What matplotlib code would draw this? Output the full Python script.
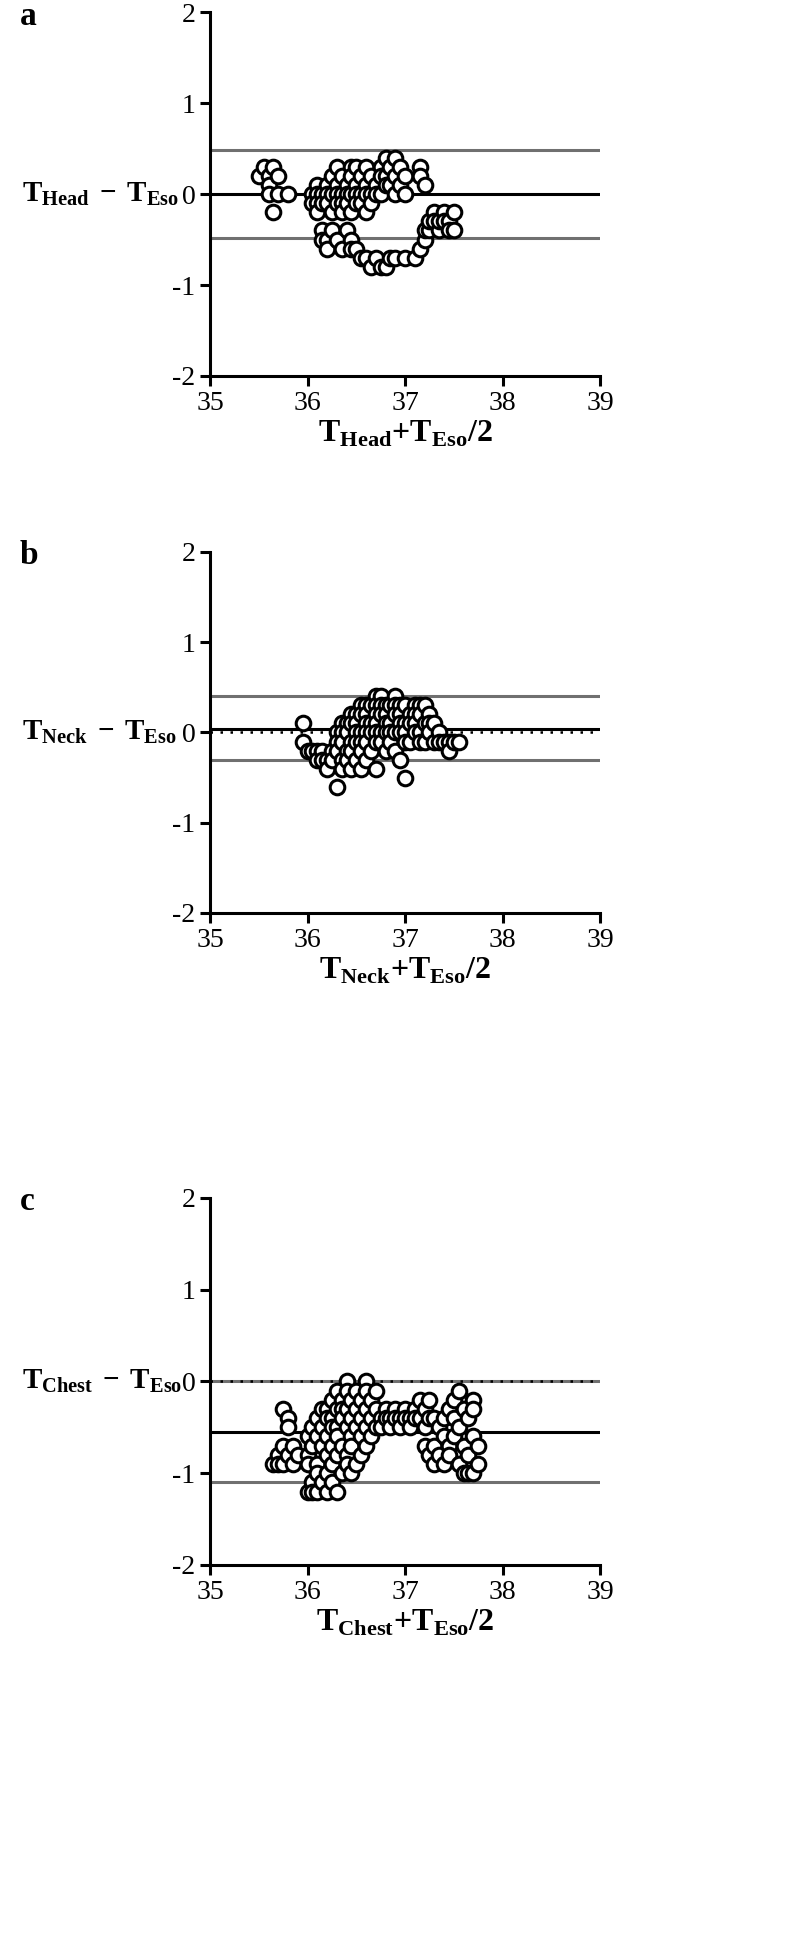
import numpy as np
import matplotlib
matplotlib.use("Agg")
import matplotlib.pyplot as plt

plt.rcParams["font.family"] = "Liberation Serif"
plt.rcParams["mathtext.fontset"] = "custom"
plt.rcParams["mathtext.bf"] = "Liberation Serif:bold"
plt.rcParams["mathtext.rm"] = "Liberation Serif"
plt.rcParams["axes.unicode_minus"] = False

# ---- data: column x -> list of differences
cols_a = {
    35.5: [0.2], 35.55: [0.3], 35.6: [0.2, 0.1, 0.0], 35.65: [0.3, -0.2], 35.7: [0.2, 0.0],
    35.8: [0.0],
    36.05: [0.0, -0.1], 36.1: [0.1, 0.0, -0.1, -0.2], 36.15: [0.0, -0.1, -0.4, -0.5],
    36.2: [0.1, 0.0, -0.1, -0.5, -0.6], 36.25: [0.2, 0.0, -0.2, -0.4],
    36.3: [0.3, 0.1, 0.0, -0.1, -0.5], 36.35: [0.2, 0.0, -0.1, -0.2, -0.6],
    36.4: [0.1, 0.0, -0.1, -0.4], 36.45: [0.3, 0.2, 0.0, -0.2, -0.5, -0.6],
    36.5: [0.3, 0.1, 0.0, -0.1, -0.6], 36.55: [0.2, 0.0, -0.1, -0.7],
    36.6: [0.3, 0.1, 0.0, -0.2, -0.7], 36.65: [0.2, 0.0, -0.1, -0.8],
    36.7: [0.1, 0.0, -0.7], 36.75: [0.3, 0.2, 0.0, -0.8], 36.8: [0.4, 0.2, 0.1, -0.8],
    36.85: [0.3, 0.1, -0.7], 36.9: [0.4, 0.2, 0.0, -0.7], 36.95: [0.3, 0.1],
    37.0: [0.2, 0.0, -0.7], 37.1: [-0.7], 37.15: [0.3, 0.2, -0.6],
    37.2: [0.1, -0.5, -0.4], 37.25: [-0.4, -0.3], 37.3: [-0.2, -0.3],
    37.35: [-0.4, -0.3], 37.4: [-0.2, -0.3], 37.45: [-0.3, -0.4], 37.5: [-0.2, -0.4],
}
cols_b = {
    35.95: [0.1, -0.1], 36.0: [-0.2], 36.05: [-0.2], 36.1: [-0.2, -0.3],
    36.15: [-0.2, -0.3], 36.2: [-0.3, -0.4], 36.25: [-0.2, -0.3],
    36.3: [0.0, -0.1, -0.2, -0.6], 36.35: [0.1, 0.0, -0.1, -0.3, -0.4],
    36.4: [0.1, 0.0, -0.2, -0.3], 36.45: [0.2, 0.1, -0.1, -0.2, -0.4],
    36.5: [0.2, 0.1, 0.0, -0.1, -0.3], 36.55: [0.3, 0.2, 0.0, -0.1, -0.2, -0.4],
    36.6: [0.3, 0.2, 0.1, 0.0, -0.1, -0.3], 36.65: [0.3, 0.1, 0.0, -0.2],
    36.7: [0.4, 0.3, 0.2, 0.1, 0.0, -0.1, -0.4], 36.75: [0.4, 0.3, 0.2, 0.0, -0.1],
    36.8: [0.3, 0.2, 0.1, 0.0, -0.2], 36.85: [0.3, 0.1, 0.0, -0.1],
    36.9: [0.4, 0.3, 0.2, 0.0, -0.2], 36.95: [0.3, 0.2, 0.1, 0.0, -0.3],
    37.0: [0.3, 0.1, 0.0, -0.1, -0.5], 37.05: [0.2, 0.1, -0.1],
    37.1: [0.3, 0.2, 0.1, 0.0], 37.15: [0.3, 0.2, 0.0, -0.1], 37.2: [0.3, 0.1, -0.1],
    37.25: [0.2, 0.1, 0.0], 37.3: [0.1, -0.1], 37.35: [0.0, -0.1], 37.4: [-0.1],
    37.45: [-0.1, -0.2], 37.5: [-0.1], 37.55: [-0.1],
}
cols_c = {
    35.65: [-0.9], 35.7: [-0.8, -0.9], 35.75: [-0.3, -0.7, -0.9], 35.8: [-0.4, -0.5, -0.8],
    35.85: [-0.7, -0.9], 35.9: [-0.8],
    36.0: [-0.6, -0.8, -0.9, -1.2], 36.05: [-0.5, -0.7, -1.1, -1.2],
    36.1: [-0.4, -0.6, -0.9, -1.0, -1.2], 36.15: [-0.3, -0.5, -0.7, -1.1],
    36.2: [-0.3, -0.4, -0.6, -0.8, -1.0, -1.2], 36.25: [-0.2, -0.4, -0.5, -0.7, -0.9, -1.1],
    36.3: [-0.1, -0.3, -0.5, -0.6, -0.8, -1.2], 36.35: [-0.2, -0.3, -0.4, -0.7, -1.0],
    36.4: [0.0, -0.1, -0.3, -0.5, -0.8, -0.9], 36.45: [-0.2, -0.4, -0.6, -0.7, -1.0],
    36.5: [-0.1, -0.3, -0.5, -0.9], 36.55: [-0.2, -0.4, -0.6, -0.8],
    36.6: [0.0, -0.1, -0.3, -0.5, -0.7], 36.65: [-0.2, -0.4, -0.6],
    36.7: [-0.1, -0.3, -0.5], 36.75: [-0.4, -0.5], 36.8: [-0.3, -0.4],
    36.85: [-0.4, -0.5], 36.9: [-0.3, -0.4], 36.95: [-0.4, -0.5], 37.0: [-0.3, -0.4],
    37.05: [-0.4, -0.5], 37.1: [-0.3, -0.4], 37.15: [-0.2, -0.4],
    37.2: [-0.3, -0.5, -0.7], 37.25: [-0.2, -0.4, -0.8], 37.3: [-0.4, -0.7, -0.9],
    37.35: [-0.5, -0.8], 37.4: [-0.4, -0.6, -0.9], 37.45: [-0.3, -0.7, -0.8],
    37.5: [-0.2, -0.4, -0.6], 37.55: [-0.1, -0.5, -0.9], 37.6: [-0.3, -0.7, -1.0],
    37.65: [-0.4, -0.8, -1.0], 37.7: [-0.2, -0.3, -0.6, -1.0], 37.75: [-0.7, -0.9],
}
# bias and limits of agreement
bias = [0.0, 0.04, -0.55]
loa_hi = [0.48, 0.40, 0.0]
loa_lo = [-0.48, -0.30, -1.10]
sites = ["Head", "Neck", "Chest"]
letters = ["a", "b", "c"]
panels = [cols_a, cols_b, cols_c]

fig = plt.figure(figsize=(7.85, 19.45), dpi=100)
rects = [(0.2675, 0.8067, 0.497, 0.187),
         (0.2675, 0.5306, 0.497, 0.1856),
         (0.2675, 0.1954, 0.497, 0.1887)]

for i, cols in enumerate(panels):
    ax = fig.add_axes(rects[i])
    xs = [x for x, ys in cols.items() for _ in ys]
    ys = [y for ys in cols.values() for y in ys]
    ax.axhline(loa_hi[i], color="#707070", lw=2.2, zorder=1)
    ax.axhline(loa_lo[i], color="#707070", lw=2.2, zorder=1)
    ax.axhline(bias[i], color="black", lw=2.2, zorder=1)
    ax.axhline(0, color="black", lw=1.8, ls=(0, (1, 3)), zorder=1)
    ax.plot(xs, ys, "o", ms=10.5, mfc="white", mec="black", mew=2.2, zorder=3)
    ax.set_xlim(35, 39)
    ax.set_ylim(-2, 2)
    ax.set_xticks([35, 36, 37, 38, 39])
    ax.set_yticks([-2, -1, 0, 1, 2])
    for s in ("top", "right"):
        ax.spines[s].set_visible(False)
    for s in ("left", "bottom"):
        ax.spines[s].set_linewidth(2.2)
    ax.tick_params(width=2.2, length=7, labelsize=20)
    site = sites[i]
    ax.set_xlabel(r"$\mathbf{T}_{\mathbf{%s}}$" % site + r"$\mathbf{+T}_{\mathbf{Eso}}\mathbf{/2}$",
                  fontsize=23, labelpad=2)
    fig.text(0.028, rects[i][1] + rects[i][3] / 2, r"$\mathbf{T}_{\mathbf{%s}}$" % site +
             r"$\mathbf{\,-\,T}_{\mathbf{Eso}}$", fontsize=21, va="center", ha="left")
    fig.text(0.025, rects[i][1] + rects[i][3] - 0.002, letters[i], fontsize=24,
             fontweight="bold", va="center")

fig.savefig("out.png", dpi=100)
